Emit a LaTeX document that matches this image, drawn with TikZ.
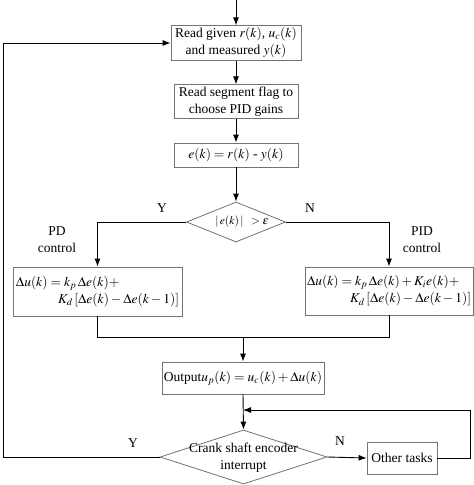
\documentclass[tikz,border=0pt]{standalone}
\usepackage{mathptmx}
\usepackage{fontspec}
\setmainfont{Liberation Serif}
\usetikzlibrary{shapes.geometric,arrows.meta}
\tikzset{
  box/.style={draw=black!55, line width=0.8pt, fill=white, inner sep=2pt, align=center},
  dia/.style={draw=black!55, line width=0.8pt, shape=diamond, inner sep=0pt},
  flow/.style={draw=black, line width=0.9pt},
  arr/.style={flow, -{Latex[length=8pt,width=6pt]}},
  lbl/.style={align=center, inner sep=0pt}
}
\begin{document}
\begin{tikzpicture}[x=1pt,y=-1pt,font=\fontsize{13.5}{17}\selectfont]
\useasboundingbox (0,0) rectangle (474,485);
\fill[white] (0,0) rectangle (474,485);
% nodes
\coordinate (top) at (236,0);
\node[box, minimum width=130pt, minimum height=33pt] (b1) at (236,43)
  {Read given $r(k)$, $u_c(k)$\\and measured $y(k)$};
\node[box, minimum width=124pt, minimum height=33pt] (b2) at (236,101.5)
  {Read segment flag to\\choose PID gains};
\node[box, minimum width=124pt, minimum height=24pt] (b3) at (236,155)
  {$e(k) = r(k)$ - $y(k)$};
\node[dia, minimum width=99pt, minimum height=40pt] (d1) at (236,222) {};
\node[lbl, font=\fontsize{11.5}{14}\selectfont] (d1t) at (242,222) {$|\,e(k)\,|\;\;>\varepsilon$};
\node[box, minimum width=169pt, minimum height=49pt, text width=163pt, align=left] (pd) at (97.5,291.5)
  {$\Delta u(k) = k_p\,\Delta e(k) +$\\\hspace*{\fill}$K_d\left[\Delta e(k) - \Delta e(k-1)\right]$};
\node[box, minimum width=168pt, minimum height=48pt, text width=164pt, align=left, inner sep=1pt] (pid) at (389,291)
  {$\Delta u(k) = k_p\,\Delta e(k) + K_i e(k) +$\\\hspace*{\fill}$K_d\left[\Delta e(k) - \Delta e(k-1)\right]$};
\node[box, minimum width=160pt, minimum height=32pt] (out) at (243,378)
  {Output$u_p(k) = u_c(k) + \Delta u(k)$};
\node[dia, minimum width=167pt, minimum height=54pt] (d2) at (243.5,457) {};
\node[lbl] (d2t) at (243.5,458) {Crank shaft encoder\\interrupt};
\node[box, minimum width=70pt, minimum height=32pt, inner sep=1pt] (oth) at (402,458) {Other tasks};
% labels
\node[lbl] (y1) at (162,208) {Y};
\node[lbl] (n1) at (310,208) {N};
\node[lbl] (pdl) at (57,240) {PD\\control};
\node[lbl] (pidl) at (422,240) {PID\\control};
\node[lbl] (y2) at (133,443) {Y};
\node[lbl] (n2) at (340,441) {N};
% connectors
\draw[arr] (top) -- (b1);
\draw[arr] (b1) -- (b2);
\draw[arr] (b2) -- (b3);
\draw[arr] (b3) -- (d1);
\draw[arr] (d1.west) -| (pd.north);
\draw[arr] (d1.east) -| (pid.north);
\coordinate (j) at (243,337);
\draw[flow] (pd.south) |- (j);
\draw[flow] (pid.south) |- (j);
\draw[arr] (j) -- (out.north);
\draw[arr] (out.south) -- (d2.north);
\draw[arr] (d2.east) -- (oth.west);
\coordinate (m) at (243,410);
\coordinate (re) at (470,410);
\draw[arr] (oth.east) -| (re) -- (m);
\coordinate (le) at (3,457);
\draw[arr] (d2.west) -- (le) |- (b1.west);
\end{tikzpicture}
\end{document}
